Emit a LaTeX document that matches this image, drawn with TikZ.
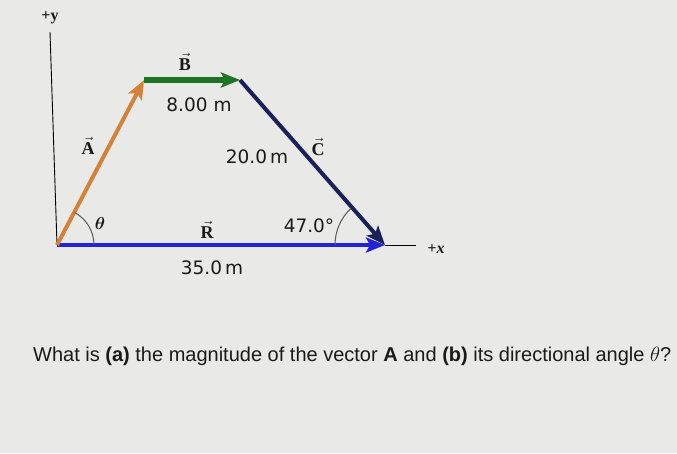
\documentclass[tikz,border=0pt]{standalone}
\usepackage{amsmath}
\usepackage{bm}
\usepackage{fontspec}
\setmainfont{Liberation Sans}
\newfontfamily\lblfont{DejaVu Sans}
\newfontfamily\seriffont{Liberation Serif}
\usetikzlibrary{arrows.meta}
\definecolor{bgc}{HTML}{E9E9E7}
\definecolor{acol}{HTML}{D4823A}
\definecolor{bcol}{HTML}{1E7424}
\definecolor{ccol}{HTML}{1A2058}
\definecolor{ctip}{HTML}{1E5A3A}
\definecolor{rcol}{HTML}{2424D2}
\definecolor{txt}{HTML}{1A1A1A}
\newcommand{\vlet}[1]{$\vec{\text{\seriffont\bfseries #1}}$}
\tikzset{
  vec/.style={line width=#1, -{Stealth[length=19pt,width=15pt,inset=4pt]}},
  axis/.style={line width=0.9pt, draw=black},
  anglearc/.style={line width=1pt, draw=gray!70!black},
  lbl/.style={font=\lblfont\fontsize{18.5}{18.5}\selectfont, text=txt, inner sep=0pt},
  vlbl/.style={font=\fontsize{18}{18}\selectfont, text=txt, inner sep=0pt},
  axlbl/.style={font=\seriffont\bfseries\fontsize{16}{16}\selectfont, text=txt, inner sep=0pt},
}
\begin{document}
\begin{tikzpicture}[x=1pt,y=-1pt]
\fill[bgc] (0,0) rectangle (677,453);
\useasboundingbox (0,0) rectangle (677,453);
\coordinate (ytop) at (50,32);
\coordinate (O) at (57,245);
\coordinate (P1) at (144,80);
\coordinate (P2) at (240,80);
\coordinate (E) at (385,245);
\coordinate (xend) at (416,245);
% axes
\draw[axis] (O) -- (ytop);
\draw[axis] (E) -- (xend);
\node[axlbl] (ylab) at (50,18) {+y};
\node[axlbl] (xlab) at (436,249) {\itshape +x};
% vectors
\draw[vec=4.5pt, draw=rcol, fill=rcol] (O) -- (E);
\draw[vec=4pt, draw=acol, fill=acol] (O) -- (P1);
\draw[vec=6pt, draw=bcol, fill=bcol] (P1) -- (P2);
\draw[line width=4pt, draw=ccol, -{Stealth[length=19pt,width=15pt,inset=4pt,fill=ctip]}] (P2) -- (E);
% angle arcs (y axis points down, so angles are negated)
\draw[anglearc] (94,245) arc[start angle=0, end angle=-61.5, radius=37];
\draw[anglearc] (335,245) arc[start angle=180, end angle=227, radius=50];
% labels
\node[vlbl] (Blab) at (185,62) {\vlet{B}};
\node[vlbl] (Alab) at (88,146) {\vlet{A}};
\node[vlbl] (Clab) at (318,147) {\vlet{C}};
\node[vlbl] (Rlab) at (207,230) {\vlet{R}};
\node[lbl] (Bmag) at (199,105) {8.00 m};
\node[lbl] (Cmag) at (257,157) {20.0\,m};
\node[lbl] (Rmag) at (212,268) {35.0\,m};
\node[lbl] (ang) at (309,226) {47.0°};
\node[vlbl] (th) at (100,223) {$\bm{\theta}$};
% question
\node[anchor=west, inner sep=0pt, text=txt, font=\fontsize{20}{20}\selectfont] (q) at (33,356)
  {What is \textbf{(a)} the magnitude of the vector \textbf{A} and \textbf{(b)} its directional angle $\theta$?};
\end{tikzpicture}
\end{document}
